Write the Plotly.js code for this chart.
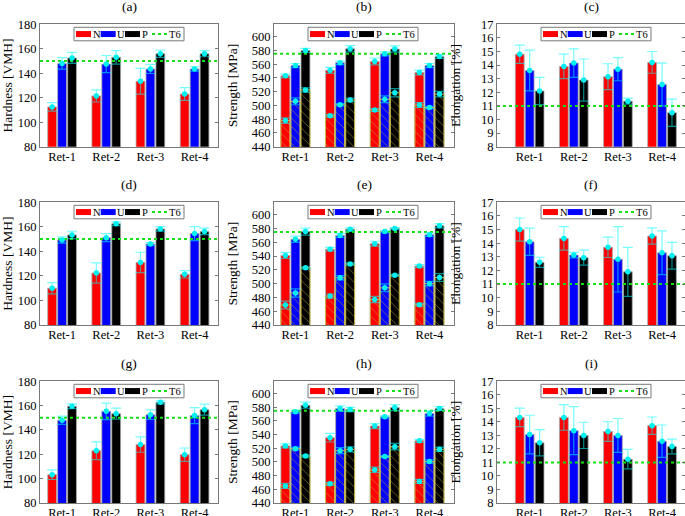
<!DOCTYPE html>
<html>
<head>
<meta charset="utf-8">
<script src="https://cdn.plot.ly/plotly-3.0.1.min.js"></script>
<style>
body { margin: 0; background: #fff; }
#chart { width: 685px; height: 516px; }
</style>
</head>
<body>
<div id="chart"></div>
<script>

categories = ['Ret-1', 'Ret-2', 'Ret-3', 'Ret-4']
series_names = ['N', 'U', 'P']
series_colors = ['rgb(255,0,0)', 'rgb(0,0,255)', 'rgb(0,0,0)']
panel_labels = ['(a)', '(b)', '(c)', '(d)', '(e)', '(f)', '(g)', '(h)', '(i)']

// T6 reference values
t6_hardness = 150
t6_strength = 575
t6_elongation = 11

// hardness [VMH], mean and error, row 1 / 2 / 3
hard_a_N = [112.5, 121.5, 133.5, 123];   hard_a_N_err = [3.5, 5, 10.5, 5.2]
hard_a_U = [148, 147.5, 143.5, 143.5];   hard_a_U_err = [4.7, 7, 3.7, 1.8]
hard_a_P = [152.5, 153, 156, 156];       hard_a_P_err = [4.5, 5.5, 3, 2.5]

hard_d_N = [110, 122.4, 131, 121.3];     hard_d_N_err = [4.6, 8.3, 8.3, 3]
hard_d_U = [149.3, 151.2, 146, 154.5];   hard_d_U_err = [2.5, 3.3, 1.2, 5.7]
hard_d_P = [153.4, 162.5, 158.3, 156.3]; hard_d_P_err = [3, 1.5, 1.8, 2.7]

hard_g_N = [103.3, 123, 128, 119.7];     hard_g_N_err = [4, 7.3, 6.3, 5.5]
hard_g_U = [148, 155.3, 152.6, 151.8];   hard_g_U_err = [3.4, 6.8, 4, 6.5]
hard_g_P = [159.5, 153.4, 162.7, 156.7]; hard_g_P_err = [2, 4.6, 1.3, 4.5]

// strength [MPa]: uts = full bar, ys = hatched part
uts_b_N = [543, 551, 564, 548];          uts_b_N_err = [2.5, 4.5, 5, 3.5]
uts_b_U = [558, 562, 575, 558];          uts_b_U_err = [3, 2.5, 3, 3]
uts_b_P = [580, 582.5, 582, 571];        uts_b_P_err = [3, 4.5, 4.5, 2.5]
ys_b_N = [478, 485, 493.5, 500.5];       ys_b_N_err = [4, 2, 2, 3.5]
ys_b_U = [506, 501, 509, 497];           ys_b_U_err = [5, 1.5, 5, 1.5]
ys_b_P = [522.5, 508, 518.5, 516.5];     ys_b_P_err = [3, 2.5, 6, 4]

uts_e_N = [541, 550, 558, 525.5];        uts_e_N_err = [4.5, 2.5, 3.5, 2]
uts_e_U = [564.5, 570, 575.6, 571];      uts_e_U_err = [4.5, 3, 1.8, 2.5]
uts_e_P = [575.5, 579, 580, 584];        uts_e_P_err = [5, 2, 1.3, 3.2]
ys_e_N = [469, 482, 477, 469.5];         ys_e_N_err = [5.5, 3, 4.5, 2]
ys_e_U = [486.5, 508.5, 494, 500];       ys_e_U_err = [6, 3, 5.7, 3.2]
ys_e_P = [523, 528.5, 512, 509];         ys_e_P_err = [1.5, 1.7, 1.3, 5.6]

uts_h_N = [523.5, 535.5, 552.5, 531];    uts_h_N_err = [3, 6.3, 3.7, 2.2]
uts_h_U = [573.5, 578.2, 566, 571];      uts_h_U_err = [2, 3.9, 1.5, 3.9]
uts_h_P = [583, 576.7, 579.6, 578.2];    uts_h_P_err = [4.4, 3.2, 4.4, 2.9]
ys_h_N = [465, 468, 488.5, 471.5];       ys_h_N_err = [3.7, 2.2, 3.9, 3]
ys_h_U = [519.5, 516.6, 508, 500.6];     ys_h_U_err = [2, 4.4, 1.2, 2.4]
ys_h_P = [508.8, 518.5, 522.4, 518.5];   ys_h_P_err = [1.7, 3.6, 4.8, 3.2]

// elongation [%]
elong_c_N = [14.8, 13.9, 13.15, 14.2];   elong_c_N_err = [0.67, 0.9, 0.95, 0.8]
elong_c_U = [13.6, 14.15, 13.7, 12.57];  elong_c_U_err = [1.5, 1.05, 0.85, 1.57]
elong_c_P = [12.1, 12.9, 11.35, 10.5];   elong_c_P_err = [1.0, 1.55, 0.22, 1.0]

elong_f_N = [15.0, 14.35, 13.7, 14.53];  elong_f_N_err = [0.85, 0.86, 0.75, 0.6]
elong_f_U = [14.1, 13.13, 12.82, 13.3];  elong_f_U_err = [1.0, 0.2, 2.4, 1.6]
elong_f_P = [12.6, 12.94, 11.9, 13.08];  elong_f_P_err = [0.37, 0.55, 1.8, 0.98]

elong_i_N = [14.33, 14.33, 13.28, 13.72]; elong_i_N_err = [0.68, 0.95, 0.73, 0.64]
elong_i_U = [13.06, 13.35, 13.0, 12.57];  elong_i_U_err = [1.43, 1.77, 1.25, 1.2]
elong_i_P = [12.45, 13.0, 11.24, 12.18];  elong_i_P_err = [0.97, 0.97, 0.72, 0.55]


W = 685
H = 516
FONT = 'Liberation Serif'
bar_w = 0.2
slot = 0.225
err_color = 'rgba(0,255,255,0.55)'
dot_color = 'rgb(0,240,240)'
t6_color = 'rgb(20,225,20)'

// pixel frame of each column / row (from the picture)
cols = [
    {x0: 40,  x1: 218, xr: [-0.5, 3.53],  leg: 34},
    {x0: 274, x1: 454, xr: [-0.48, 3.55], leg: 34},
    {x0: 497, x1: 685, xr: [-0.74, 3.52], leg: 44}
]
rows = [
    {y0: 24.3,  y1: 146.7},
    {y0: 202.3, y1: 325},
    {y0: 381.3, y1: 503}
]

// column kind: hardness / strength / elongation
kinds = [
    {title: 'Hardness [VMH]', range: [80, 180], dtick: 20, t6: t6_hardness},
    {title: 'Strength [MPa]', range: [440, 618], dtick: 20, t6: t6_strength},
    {title: 'Elongation [%]', range: [8, 17], dtick: 1, t6: t6_elongation}
]

panels = [
    {main: [hard_a_N, hard_a_U, hard_a_P], err: [hard_a_N_err, hard_a_U_err, hard_a_P_err]},
    {main: [uts_b_N, uts_b_U, uts_b_P], err: [uts_b_N_err, uts_b_U_err, uts_b_P_err],
     ys: [ys_b_N, ys_b_U, ys_b_P], ys_err: [ys_b_N_err, ys_b_U_err, ys_b_P_err]},
    {main: [elong_c_N, elong_c_U, elong_c_P], err: [elong_c_N_err, elong_c_U_err, elong_c_P_err]},
    {main: [hard_d_N, hard_d_U, hard_d_P], err: [hard_d_N_err, hard_d_U_err, hard_d_P_err]},
    {main: [uts_e_N, uts_e_U, uts_e_P], err: [uts_e_N_err, uts_e_U_err, uts_e_P_err],
     ys: [ys_e_N, ys_e_U, ys_e_P], ys_err: [ys_e_N_err, ys_e_U_err, ys_e_P_err]},
    {main: [elong_f_N, elong_f_U, elong_f_P], err: [elong_f_N_err, elong_f_U_err, elong_f_P_err]},
    {main: [hard_g_N, hard_g_U, hard_g_P], err: [hard_g_N_err, hard_g_U_err, hard_g_P_err]},
    {main: [uts_h_N, uts_h_U, uts_h_P], err: [uts_h_N_err, uts_h_U_err, uts_h_P_err],
     ys: [ys_h_N, ys_h_U, ys_h_P], ys_err: [ys_h_N_err, ys_h_U_err, ys_h_P_err]},
    {main: [elong_i_N, elong_i_U, elong_i_P], err: [elong_i_N_err, elong_i_U_err, elong_i_P_err]}
]

traces = []
shapes = []
annotations = []
layout = {
    width: W, height: H,
    margin: {l: 0, r: 0, t: 0, b: 0},
    paper_bgcolor: 'white',
    plot_bgcolor: 'white',
    barmode: 'overlay',
    showlegend: false,
    font: {family: FONT, size: 12, color: 'black'}
}

function positions(k) {
    return categories.map((c, i) => i + (k - 1) * slot)
}

function dots(x, y, e, xa, ya) {
    return {
        type: 'scatter', mode: 'markers', x: x, y: y,
        xaxis: xa, yaxis: ya, cliponaxis: false,
        marker: {color: dot_color, size: 5.5},
        error_y: {type: 'data', array: e, visible: true, color: err_color, thickness: 1.2, width: 5}
    }
}

// little legend box drawn in each subplot (plotly's own legend is too wide here)
function add_legend(n, col, row) {
    pw = col.x1 - col.x0
    ph = row.y1 - row.y0
    xd = (n == 1 ? 'x' : 'x' + n) + ' domain'
    yd = (n == 1 ? 'y' : 'y' + n) + ' domain'
    fx = px => (col.leg + px) / pw
    fy = py => 1 - py / ph
    yc = 9.75
    shapes.push({type: 'rect', xref: xd, yref: yd, x0: fx(0), x1: fx(110), y0: fy(3), y1: fy(16.5),
        line: {color: 'rgb(120,120,120)', width: 1}, fillcolor: 'white'})
    sw_left = [2, 26.7, 51]
    for (k = 0; k < 3; k++) {
        shapes.push({type: 'rect', xref: xd, yref: yd, x0: fx(sw_left[k]), x1: fx(sw_left[k] + 15),
            y0: fy(yc - 3), y1: fy(yc + 3), line: {width: 0}, fillcolor: series_colors[k]})
        annotations.push({xref: xd, yref: yd, x: fx(sw_left[k] + 15.5), y: fy(yc), text: series_names[k],
            showarrow: false, xanchor: 'left', yanchor: 'middle', borderpad: 0, font: {size: 10.5}})
    }
    shapes.push({type: 'line', xref: xd, yref: yd, x0: fx(78), x1: fx(93), y0: fy(yc), y1: fy(yc),
        line: {color: t6_color, width: 2, dash: 'dot'}})
    annotations.push({xref: xd, yref: yd, x: fx(94), y: fy(yc), text: 'T6',
        showarrow: false, xanchor: 'left', yanchor: 'middle', borderpad: 0, font: {size: 10.5}})
}

for (p = 0; p < 9; p++) {
    r = Math.floor(p / 3)
    c = p % 3
    n = p + 1
    col = cols[c]
    row = rows[r]
    kind = kinds[c]
    pan = panels[p]
    xa = n == 1 ? 'x' : 'x' + n
    ya = n == 1 ? 'y' : 'y' + n

    for (k = 0; k < 3; k++) {
        traces.push({
            type: 'bar', x: positions(k), y: pan.main[k], width: bar_w,
            xaxis: xa, yaxis: ya,
            marker: {color: series_colors[k], line: {color: 'rgb(170,170,170)', width: 0.8}}
        })
    }
    if (pan.ys) {
        for (k = 0; k < 3; k++) {
            traces.push({
                type: 'bar', x: positions(k), y: pan.ys[k], width: bar_w,
                xaxis: xa, yaxis: ya,
                marker: {
                    color: series_colors[k],
                    line: {color: 'rgb(200,185,70)', width: 1},
                    pattern: {shape: '\\', fgcolor: 'rgb(190,170,50)', fgopacity: 0.75,
                              bgcolor: series_colors[k], size: 6, solidity: 0.12}
                }
            })
        }
    }

    // T6 line across the whole axis
    traces.push({
        type: 'scatter', mode: 'lines', x: col.xr, y: [kind.t6, kind.t6],
        xaxis: xa, yaxis: ya,
        line: {color: t6_color, width: 2, dash: 'dot'}
    })

    for (k = 0; k < 3; k++) {
        traces.push(dots(positions(k), pan.main[k], pan.err[k], xa, ya))
        if (pan.ys) traces.push(dots(positions(k), pan.ys[k], pan.ys_err[k], xa, ya))
    }

    layout['xaxis' + (n == 1 ? '' : n)] = {
        domain: [col.x0 / W, col.x1 / W],
        anchor: ya,
        range: col.xr,
        tickvals: [0, 1, 2, 3],
        ticktext: categories,
        ticks: '',
        ticklabelstandoff: -2,
        showgrid: false, zeroline: false,
        showline: true, mirror: true, linecolor: 'rgb(120,120,120)', linewidth: 1,
        tickfont: {size: 12.5}
    }
    layout['yaxis' + (n == 1 ? '' : n)] = {
        domain: [1 - row.y1 / H, 1 - row.y0 / H],
        anchor: xa,
        range: kind.range,
        dtick: kind.dtick,
        ticks: 'inside', ticklen: 3, tickcolor: 'rgb(120,120,120)',
        showgrid: false, zeroline: false,
        showline: true, mirror: 'ticks', linecolor: 'rgb(120,120,120)', linewidth: 1,
        tickfont: {size: 12.5},
        title: {text: kind.title, font: {size: 13.5}}
    }

    annotations.push({
        xref: xa + ' domain', yref: ya + ' domain', x: 0.5, y: 1,
        text: panel_labels[p], showarrow: false, xanchor: 'center', yanchor: 'bottom',
        yshift: 8, font: {size: 13.5}
    })
    add_legend(n, col, row)
}

layout.shapes = shapes
layout.annotations = annotations

Plotly.newPlot('chart', traces, layout, {displayModeBar: false, staticPlot: true})
</script>
</body>
</html>
